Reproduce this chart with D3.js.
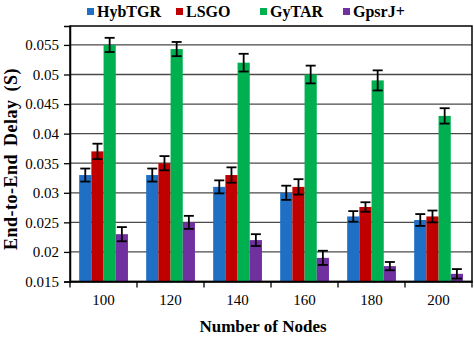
<!DOCTYPE html>
<html><head><meta charset="utf-8">
<script src="https://cdn.jsdelivr.net/npm/d3@7"></script>
<style>body{margin:0;background:#fff}svg{display:block}
svg text{font-family:'Liberation Serif','Times New Roman',Tinos,serif !important;}</style>
</head><body>
<svg id="c" width="474" height="337"></svg>
<script>
const categories = ["100","120","140","160","180","200"];
const seriesNames = ["HybTGR","LSGO","GyTAR","GpsrJ+"];
const colors = ["#1F6FC4","#C00000","#00B050","#7030A0"];
const hybtgr = [0.033,0.033,0.031,0.030,0.026,0.0254];
const lsgo   = [0.037,0.035,0.033,0.031,0.0276,0.026];
const gytar  = [0.055,0.0543,0.052,0.050,0.049,0.043];
const gpsrj  = [0.023,0.025,0.022,0.019,0.0176,0.0163];
const errHyb = [0.0011,0.0011,0.0011,0.0012,0.0009,0.001];
const errLsgo= [0.0013,0.0012,0.0013,0.0013,0.0008,0.001];
const errGy  = [0.0012,0.0012,0.0015,0.0015,0.0017,0.0013];
const errGp  = [0.0012,0.0011,0.001,0.0012,0.0007,0.0008];
const yTicks = [0.015,0.02,0.025,0.03,0.035,0.04,0.045,0.05,0.055];
const yTickLabels = ["0.015","0.02","0.025","0.03","0.035","0.04","0.045","0.05","0.055"];

const values = [hybtgr,lsgo,gytar,gpsrj];
const errs = [errHyb,errLsgo,errGy,errGp];

const svg = d3.select("#c");
const L=70, R=472, T=26, B=281.5;
const y = d3.scaleLinear().domain([0.015,0.0582]).range([B,T]);
const x0 = d3.scaleBand().domain(categories).range([L,R]).paddingInner(0).paddingOuter(0);
const x1 = d3.scaleBand().domain(seriesNames).range([x0.bandwidth()*0.137, x0.bandwidth()*0.865]);

// gridlines
svg.append("g").selectAll("line").data(yTicks).join("line")
  .attr("x1",L).attr("x2",R).attr("y1",d=>y(d)).attr("y2",d=>y(d))
  .attr("stroke","#4a4a4a").attr("stroke-width",1.3);

// bars
const g = svg.append("g");
seriesNames.forEach((s,si)=>{
  g.append("g").selectAll("rect").data(categories).join("rect")
    .attr("x",c=>x0(c)+x1(s)).attr("width",x1.bandwidth())
    .attr("y",(c,i)=>y(values[si][i])).attr("height",(c,i)=>B-y(values[si][i]))
    .attr("fill",colors[si]);
});
// error bars
seriesNames.forEach((s,si)=>{
  const eg = g.append("g").attr("stroke","#000").attr("stroke-width",1.8);
  categories.forEach((c,i)=>{
    const cx = x0(c)+x1(s)+x1.bandwidth()/2;
    const v = values[si][i], e = errs[si][i];
    eg.append("line").attr("x1",cx).attr("x2",cx).attr("y1",y(v+e)).attr("y2",y(v-e));
    eg.append("line").attr("x1",cx-5).attr("x2",cx+5).attr("y1",y(v+e)).attr("y2",y(v+e));
    eg.append("line").attr("x1",cx-5).attr("x2",cx+5).attr("y1",y(v-e)).attr("y2",y(v-e));
  });
});

// plot border
svg.append("rect").attr("x",L).attr("y",T).attr("width",R-L).attr("height",B-T)
  .attr("fill","none").attr("stroke","#000").attr("stroke-width",1.5);

// y axis
const yAxis = d3.axisLeft(y).tickValues(yTicks).tickFormat((d,i)=>yTickLabels[i]).tickSize(6).tickPadding(5);
const ya = svg.append("g").attr("transform",`translate(${L},0)`).call(yAxis);
ya.select(".domain").attr("stroke","#000").attr("stroke-width",1.5);
ya.selectAll(".tick line").attr("stroke","#000").attr("stroke-width",1.3);
ya.selectAll("text").attr("font-size",15).attr("fill","#000");

// x axis
const xa = svg.append("g").attr("transform",`translate(0,${B})`).call(d3.axisBottom(x0).tickSize(0).tickPadding(13));
xa.select(".domain").attr("stroke","#000").attr("stroke-width",1.5);
xa.selectAll("text").attr("font-size",15).attr("fill","#000");
svg.append("g").selectAll("line").data(categories.concat(["end"])).join("line")
  .attr("x1",(c,i)=>L+i*x0.step()).attr("x2",(c,i)=>L+i*x0.step())
  .attr("y1",B).attr("y2",B+6).attr("stroke","#000").attr("stroke-width",1.3);

// titles
svg.append("text").attr("x",263).attr("y",332).attr("text-anchor","middle")
  .attr("font-weight","bold").attr("font-size",17)
  .text("Number of Nodes");
svg.append("text").attr("transform","translate(17,159) rotate(-90)").attr("text-anchor","middle")
  .attr("font-weight","bold").attr("font-size",18).attr("letter-spacing",0.5).attr("word-spacing",3)
  .text("End-to-End Delay (S)");

// legend
const legX = [87,176,260,343];
const lg = svg.append("g");
seriesNames.forEach((s,i)=>{
  lg.append("rect").attr("x",legX[i]).attr("y",8).attr("width",7).attr("height",7).attr("fill",colors[i]);
  lg.append("text").attr("x",legX[i]+10).attr("y",16.5)
    .attr("font-weight","bold").attr("font-size",16).text(s);
});
</script>
</body></html>
